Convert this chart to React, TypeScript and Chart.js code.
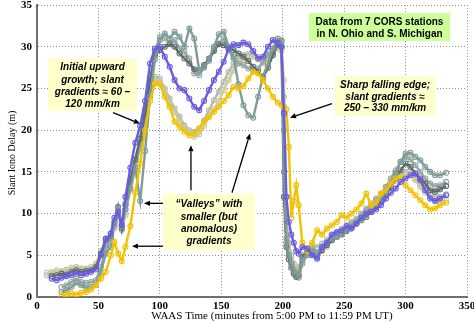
import React, { useEffect, useRef } from "react";
import { Chart, registerables } from "chart.js";

Chart.register(...registerables);

// WAAS time (minutes) shared by all stations
const T = [8, 12, 16, 20, 24, 28, 32, 36, 40, 44, 48, 52, 56, 60, 63, 66, 69, 72, 76, 80, 84, 88, 92, 96, 100, 104, 108, 112, 116, 120, 124, 128, 132, 136, 140, 144, 148, 152, 156, 160, 164, 168, 172, 176, 180, 184, 188, 192, 196, 199, 201, 203, 205, 207, 209, 211, 213, 216, 220, 224, 228, 232, 236, 240, 244, 248, 252, 256, 260, 264, 268, 272, 276, 280, 284, 288, 292, 296, 300, 304, 308, 312, 316, 320, 324, 328, 333];

const stationBlue = [
  null, 2.2, 2.0, 2.3, 2.5, 2.6, 2.9, 2.6, 2.8, 3.0, 3.3, 5.0, 6.8, 7.6,
  9.5, 10.2, 8.6, 12.0, 15.5, 18.5, 20.5, 23.5, 28.0, 29.8,
  30.0, 28.8, 27.6, 26.0, 25.0, 24.8, 23.8, 22.8, 22.4, 23.5,
  24.8, 26.0, 27.0, 28.2, 29.8, 30.3, 30.2, 30.5, 30.3, 29.5,
  28.6, 28.8, 30.0, 30.8, 30.5,
  30.0, 22.0, 12.0, 9.0, 7.5, 6.5, 5.5, 5.2, 6.0,
  5.8, 5.0, 4.6, 6.0, 6.5, 7.5, 7.8, 8.0, 8.5, 8.2,
  8.8, 9.5, 10.0, 10.2, 10.5, 11.0, 11.8, 12.5, 13.0, 13.8,
  14.2, 14.6, 14.8, 14.0, 12.8, 11.8, 11.5, 11.8, 12.2,
];

const stationYellow = [
  null, null, null, 0.2, 0.3, 0.4, 0.3, 0.5, 0.6, 0.9, 1.4, 2.2, 3.0, 5.0,
  6.6, 5.2, 4.3, 6.0, 8.5, 12.5, 16.0, 20.0, 23.5, 25.6,
  25.5, 24.0, 22.8, 21.0, 20.4, 19.8, 19.4, 19.6, 20.2, 21.0,
  21.6, 22.2, 22.8, 23.5, 24.2, 25.2, 25.0, 25.3, 26.2, 27.0,
  26.8, 26.0, 25.0, 24.0, 23.3,
  23.0, 22.8, 22.5, 18.0, 9.5, 11.5, 13.4, 11.0, 6.5,
  5.5, 6.5, 8.0, 7.5, 8.2, 8.6, 9.0, 9.8, 9.5, 10.0,
  10.5, 11.2, 12.4, 11.0, 11.3, 12.4, 12.8, 13.6, 14.2, 14.4,
  13.4, 12.8, 12.2, 11.6, 11.0, 10.5, 10.6, 11.0, 11.3,
];

const stationTeal = [
  null, null, null, 0.6, 0.8, 1.2, 1.7, 1.4, 1.1, 1.2, 1.4, 3.0, 5.2, 6.0,
  8.8, 10.6, 8.5, 10.5, 13.0, 15.5, 11.5, 17.5, 24.0, 28.5,
  30.8, 31.6, 31.0, 31.8, 31.2, 30.0, 32.2, 31.0, 27.2, 27.6,
  28.5, 30.0, 31.5, 31.8, 30.0, 28.8, 25.5, 23.0, 21.8, 21.5,
  24.0, 26.5, 28.0, 29.8, 31.0,
  30.6, 15.0, 6.5, 5.0, 4.0, 3.2, 2.8, 2.6, 4.5,
  5.0, 5.5, 5.0, 5.8, 6.5, 7.0, 7.2, 7.6, 8.0, 8.4,
  8.8, 9.2, 9.8, 10.4, 11.2, 11.8, 12.6, 13.5, 14.8, 16.2,
  17.2, 17.3, 16.8, 16.4, 15.6, 15.0, 14.6, 14.6, 14.9,
];

const stationDark = [
  null, 2.5, 2.6, 2.8, 2.7, 3.0, 3.2, 3.0, 3.1, 3.2, 3.6, 5.2, 7.0, 7.3,
  9.0, 10.8, 8.2, 11.0, 14.0, 16.5, 19.0, 22.0, 26.0, 29.0,
  29.6, 30.0, 30.3, 30.0, 29.2, 28.6, 28.0, 27.3, 27.2, 27.8,
  28.6, 29.5, 30.3, 30.2, 29.8, 29.6, 29.2, 28.8, 28.3, 27.6,
  27.0, 26.3, 27.5, 29.0, 30.3,
  30.0, 12.0, 6.0, 4.5, 3.5, 2.8, 2.4, 2.6, 4.8,
  5.5, 5.2, 4.8, 5.6, 6.2, 6.8, 7.2, 7.5, 7.9, 8.3,
  8.8, 9.2, 9.6, 10.2, 10.8, 11.5, 12.3, 13.2, 14.2, 15.2,
  16.0, 15.6, 14.8, 14.2, 13.6, 12.8, 12.6, 12.9, 13.3,
];

const stationKhaki = [
  2.9, 3.0, 3.2, 3.1, 3.3, 3.5, 3.4, 3.2, 3.4, 3.6, 4.0, 5.5, 6.5, 7.0,
  8.2, 10.0, 8.0, 9.8, 12.8, 15.5, 18.0, 21.0, 24.5, 26.0,
  25.8, 24.5, 23.2, 22.2, 21.0, 20.2, 19.6, 19.2, 19.5, 20.5,
  21.6, 22.5, 23.5, 24.8, 26.0, 27.2, 28.0, 28.4, 28.6, 28.8,
  28.5, 28.0, 28.6, 29.2, 29.8,
  29.5, 26.0, 8.0, 5.5, 4.5, 3.6, 3.2, 3.0, 4.2,
  5.0, 5.6, 5.2, 5.5, 6.0, 6.8, 7.2, 7.8, 8.0, 8.6,
  9.0, 9.6, 10.2, 10.6, 11.2, 11.9, 12.6, 13.2, 13.9, 14.6,
  14.8, 14.6, 14.0, 13.2, 12.5, 12.0, 11.6, 11.4, 11.6,
];

const stationGray = [
  null, null, null, 1.2, 1.4, 1.8, 2.2, 1.8, 1.7, 1.8, 2.0, 3.6, 5.8, 7.0,
  8.5, 10.2, 8.8, 11.2, 13.8, 16.0, 17.8, 21.5, 25.5, 29.5,
  31.2, 31.0, 30.5, 30.8, 29.8, 29.4, 28.6, 26.8, 26.6, 27.5,
  28.3, 29.6, 30.4, 31.0, 29.6, 28.6, 28.0, 27.8, 27.4, 27.2,
  27.4, 28.2, 29.0, 29.6, 30.4,
  30.8, 20.0, 7.0, 5.0, 4.0, 3.0, 2.6, 2.3, 4.0,
  5.2, 5.8, 5.4, 6.0, 6.6, 7.0, 7.4, 7.8, 8.2, 8.8,
  9.2, 9.8, 10.4, 11.0, 11.6, 12.3, 13.2, 14.2, 15.2, 16.2,
  16.8, 16.5, 15.8, 15.0, 14.2, 13.6, 13.3, 13.4, 13.8,
];

const stationLight = [
  2.6, 2.8, 2.9, 3.0, 3.2, 3.3, 3.6, 3.4, 3.3, 3.4, 3.8, 5.0, 6.2, 7.2,
  8.5, 9.8, 8.6, 10.5, 13.5, 16.5, 19.0, 22.5, 25.0, 26.4,
  26.2, 25.0, 23.8, 22.6, 21.6, 20.6, 20.0, 19.8, 20.2, 21.2,
  22.4, 23.6, 24.6, 25.8, 27.0, 28.0, 28.6, 29.0, 29.2, 29.0,
  28.8, 28.5, 29.2, 29.8, 30.2,
  29.8, 24.0, 9.0, 6.5, 5.0, 4.0, 3.4, 3.6, 5.0,
  5.8, 6.2, 6.0, 6.4, 6.9, 7.4, 7.7, 8.2, 8.6, 9.0,
  9.4, 10.0, 10.6, 11.2, 11.8, 12.4, 13.0, 13.6, 14.2, 14.8,
  15.0, 14.8, 14.2, 13.5, 12.8, 12.3, 12.0, 12.0, 12.3,
];

const seriesNames = ["Station 1", "Station 2", "Station 3", "Station 4", "Station 5", "Station 6", "Station 7"];
const seriesValues = [stationBlue, stationYellow, stationTeal, stationDark, stationGray, stationKhaki, stationLight];
const seriesColors = ["#6a5ce0", "#f2c200", "#7f9c99", "#5d6d6b", "#93a6a2", "#cdc9a0", "#b4bbb0"];

const xTicks = [0, 50, 100, 150, 200, 250, 300, 350];
const yTicks = [0, 5, 10, 15, 20, 25, 30, 35];

const xTitle = "WAAS Time (minutes from 5:00 PM to 11:59 PM UT)";
const yTitle = "Slant Iono Delay (m)";

// Annotation boxes (data coordinates)
const notes = [
  { x0: 9, x1: 81.4, y0: 28.55, y1: 22.3, fill: "#ffffcc", italic: true, lh: 12.3,
    lines: ["Initial upward", "growth; slant", "gradients \u2248 60 \u2013", "120 mm/km"] },
  { x0: 221.4, x1: 336.2, y0: 34.05, y1: 30.7, fill: "#ccff99", italic: false, lh: 12,
    lines: ["Data from 7 CORS stations", "in N. Ohio and S. Michigan"] },
  { x0: 242.6, x1: 324, y0: 26.5, y1: 21.7, fill: "#ffffcc", italic: true, lh: 11.7,
    lines: ["Sharp falling edge;", "slant gradients \u2248", "250 \u2013 330 mm/km"] },
  { x0: 102.6, x1: 177.4, y0: 12.4, y1: 5.6, fill: "#ffffcc", italic: true, lh: 12.3,
    lines: ["\u201cValleys\u201d with", "smaller (but", "anomalous)", "gradients"] },
];

const arrows = [
  [61.9, 22.1, 83.8, 20.8],
  [240.1, 23.2, 205.9, 21.5],
  [102.6, 11.23, 87.1, 11.23],
  [102.6, 6.09, 77.3, 6.09],
  [125.3, 12.8, 125.3, 18.2],
  [158.7, 12.5, 173.4, 19.6],
];

const annotPlugin = {
  id: "annot",
  afterDatasetsDraw(chart: any) {
    const { ctx } = chart;
    const xs = chart.scales.x;
    const ys = chart.scales.y;
    ctx.save();
    for (const n of notes) {
      const l = xs.getPixelForValue(n.x0);
      const r = xs.getPixelForValue(n.x1);
      const t = ys.getPixelForValue(n.y0);
      const b = ys.getPixelForValue(n.y1);
      ctx.fillStyle = n.fill;
      ctx.fillRect(l, t, r - l, b - t);
      ctx.fillStyle = "#000";
      ctx.font = (n.italic ? "italic " : "") + "bold 10px 'Liberation Sans', Arial, sans-serif";
      ctx.textAlign = "center";
      ctx.textBaseline = "middle";
      const cx = (l + r) / 2;
      const cy = (t + b) / 2 + 1;
      const start = cy - ((n.lines.length - 1) * n.lh) / 2;
      n.lines.forEach((s: string, i: number) => ctx.fillText(s, cx, start + i * n.lh));
    }
    ctx.strokeStyle = "#000";
    ctx.fillStyle = "#000";
    ctx.lineWidth = 1.3;
    for (const a of arrows) {
      const x0 = xs.getPixelForValue(a[0]);
      const y0 = ys.getPixelForValue(a[1]);
      const x1 = xs.getPixelForValue(a[2]);
      const y1 = ys.getPixelForValue(a[3]);
      const ang = Math.atan2(y1 - y0, x1 - x0);
      const hl = 6, hw = 2.6;
      const bx = x1 - hl * Math.cos(ang);
      const by = y1 - hl * Math.sin(ang);
      ctx.beginPath();
      ctx.moveTo(x0, y0);
      ctx.lineTo(bx, by);
      ctx.stroke();
      ctx.beginPath();
      ctx.moveTo(x1, y1);
      ctx.lineTo(bx + hw * Math.sin(ang), by - hw * Math.cos(ang));
      ctx.lineTo(bx - hw * Math.sin(ang), by + hw * Math.cos(ang));
      ctx.closePath();
      ctx.fill();
    }
    ctx.restore();
  },
  afterDraw(chart: any) {
    const { ctx } = chart;
    ctx.save();
    ctx.fillStyle = "#000";
    ctx.font = "11px 'Liberation Serif', 'Times New Roman', serif";
    ctx.textAlign = "center";
    ctx.textBaseline = "middle";
    ctx.fillText(xTitle, 272, 316);
    ctx.translate(12, 153);
    ctx.rotate(-Math.PI / 2);
    ctx.font = "10px 'Liberation Serif', 'Times New Roman', serif";
    ctx.fillText(yTitle, 0, 0);
    ctx.restore();
  },
};

export default function App() {
  const ref = useRef<HTMLCanvasElement>(null);
  useEffect(() => {
    document.body.style.margin = "0";
    const datasets = seriesValues.map((vals, k) => ({
      label: seriesNames[k],
      data: T.map((t, i) => ({ x: t, y: vals[i] })).filter((p) => p.y !== null),
      borderColor: seriesColors[k],
      backgroundColor: "rgba(255,255,255,0)",
      pointBorderColor: seriesColors[k],
      pointBackgroundColor: "rgba(255,255,255,0)",
      borderWidth: 2.4,
      pointRadius: 2.5,
      pointBorderWidth: 1.1,
      tension: 0,
    }));
    const tickFont = { family: "'Liberation Serif', 'Times New Roman', serif", size: 11, weight: "bold" as const };
    const chart = new Chart(ref.current as HTMLCanvasElement, {
      type: "line",
      data: { datasets },
      plugins: [annotPlugin],
      options: {
        animation: false,
        responsive: false,
        layout: { padding: { top: 4, right: 7, bottom: 0, left: 0 } },
        plugins: { legend: { display: false }, tooltip: { enabled: false } },
        scales: {
          x: {
            type: "linear",
            min: 0,
            max: 350,
            afterBuildTicks: (s: any) => { s.ticks = xTicks.map((v) => ({ value: v })); },
            afterFit: (s: any) => { s.height = 26; s.paddingLeft = 0; s.paddingRight = 0; },
            ticks: { font: tickFont, color: "#000", padding: 3, maxRotation: 0 },
            grid: { color: "#8f8f8f", lineWidth: 1, drawTicks: false },
            border: { display: true, color: "#707070", width: 2, dash: [1, 2] },
          },
          y: {
            type: "linear",
            min: 0,
            max: 35,
            afterBuildTicks: (s: any) => { s.ticks = yTicks.map((v) => ({ value: v })); },
            afterFit: (s: any) => { s.width = 37; s.paddingTop = 0; s.paddingBottom = 0; },
            ticks: { font: tickFont, color: "#000", padding: 5 },
            grid: { color: "#8f8f8f", lineWidth: 1, drawTicks: false },
            border: { display: true, color: "#707070", width: 2, dash: [1, 2] },
          },
        },
      },
    });
    return () => chart.destroy();
  }, []);
  return (
    <div style={{ position: "absolute", left: 0, top: 0, width: 474, height: 323, background: "#fff" }}>
      <canvas ref={ref} width={474} height={323} />
    </div>
  );
}
